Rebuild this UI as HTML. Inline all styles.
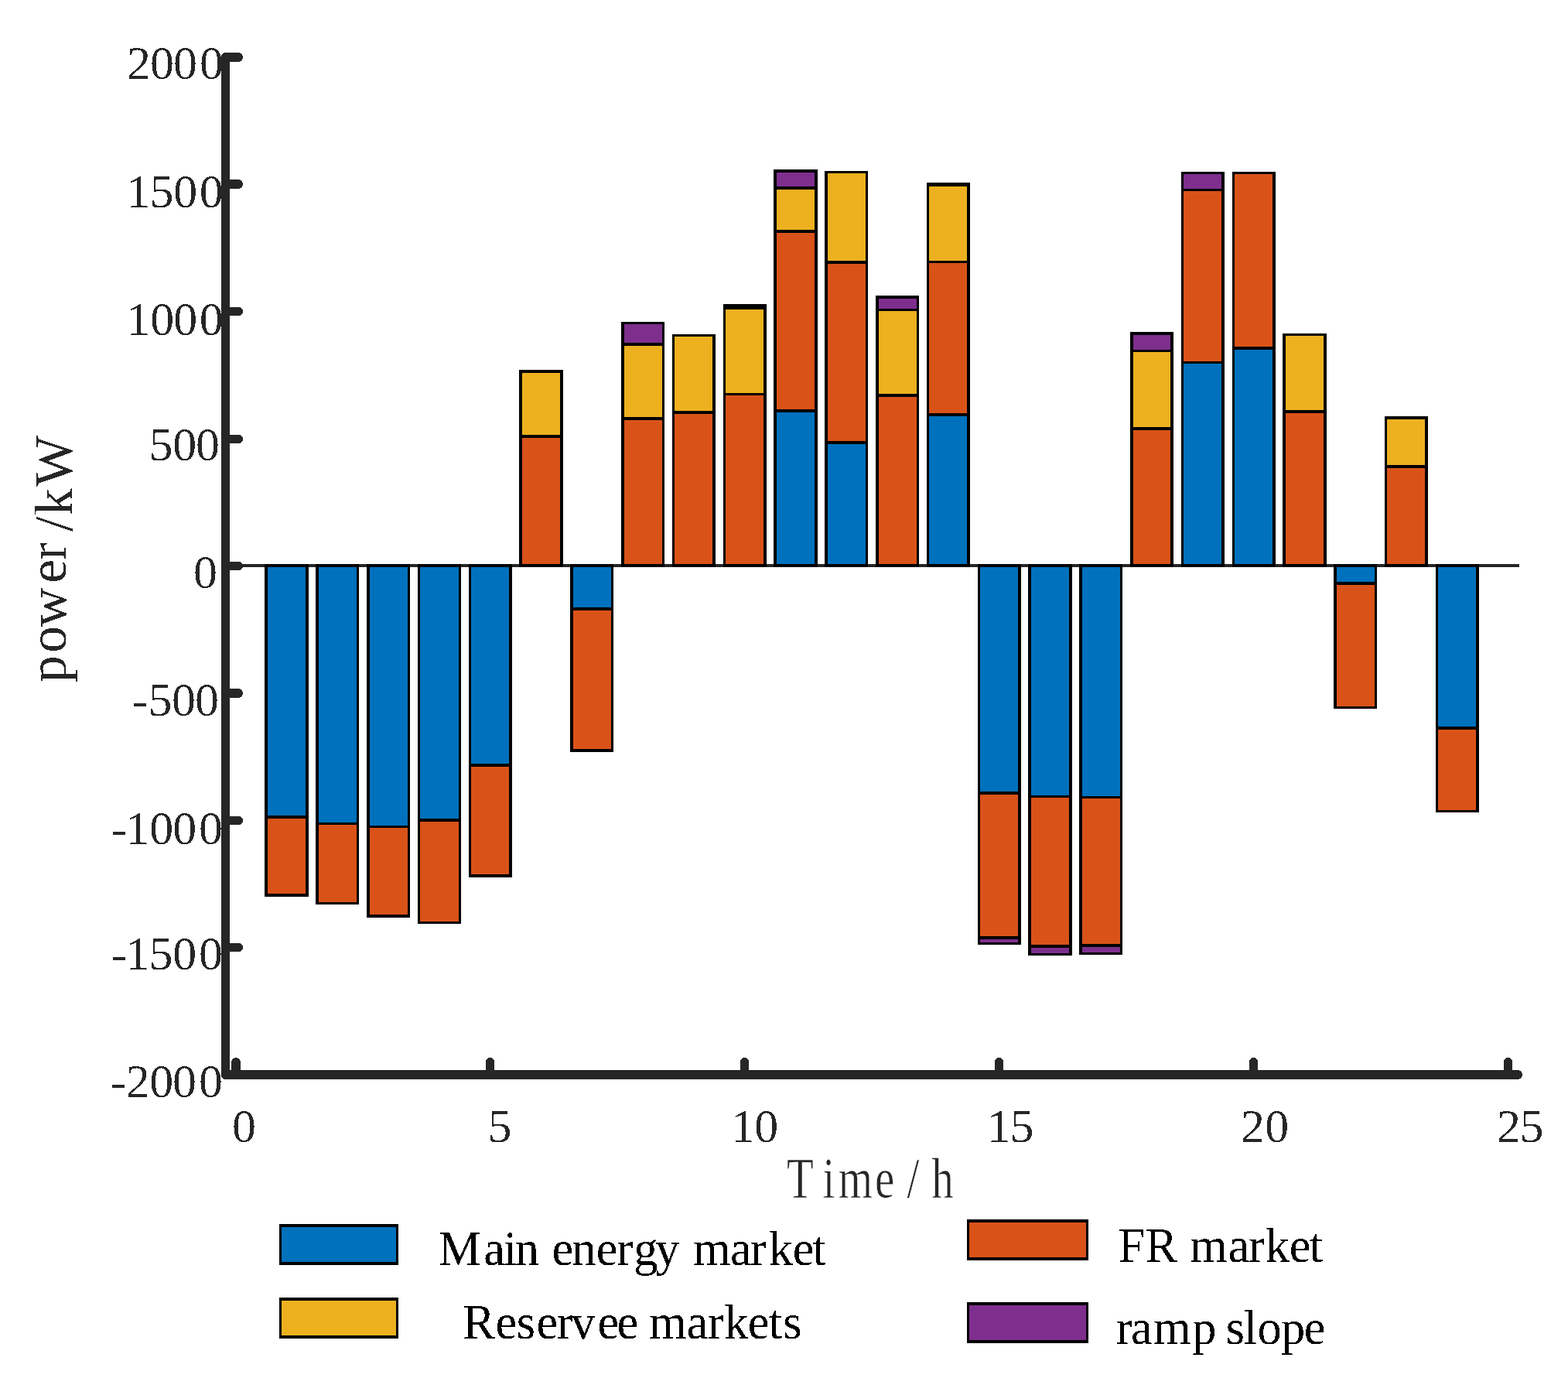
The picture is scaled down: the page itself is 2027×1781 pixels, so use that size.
<!DOCTYPE html>
<html lang="en">
<head>
<meta charset="utf-8">
<title>Power by market over time</title>
<style>
html,body{margin:0;padding:0;background:#fff;}
body{width:2027px;height:1781px;overflow:hidden;}
svg{display:block;}
text{font-family:"Liberation Serif","Times New Roman",serif;}
.tick{font-size:62px;fill:#262626;}
.leg{font-size:62.4px;fill:#000;}
.ylab{font-size:69.5px;fill:#262626;}
.xlab{font-size:73px;fill:#262626;stroke:#fff;stroke-width:0.7px;}
</style>
</head>
<body>
<svg width="2027" height="1781" viewBox="0 0 2027 1781" role="img" aria-label="Stacked bar chart of power by market over 24 hours">
<defs><filter id="hard" x="0" y="0" width="100%" height="100%" filterUnits="objectBoundingBox" color-interpolation-filters="sRGB"><feComponentTransfer><feFuncA type="discrete" tableValues="0 0 0 1 1"/></feComponentTransfer></filter><filter id="hard2" x="0" y="0" width="100%" height="100%" filterUnits="objectBoundingBox" color-interpolation-filters="sRGB"><feComponentTransfer><feFuncA type="discrete" tableValues="0 0 1 1"/></feComponentTransfer></filter></defs>
<rect x="0" y="0" width="2027" height="1781" fill="#ffffff"/>
<g filter="url(#hard)">
<g class="tick">
<text x="163.9 193.9 224.1 257.9" y="102.2">2000</text>
<text x="163.6 193.4 224.2 257.8" y="267.9">1500</text>
<text x="163.6 194.2 224.2 257.8" y="432.9">1000</text>
<text x="192.6 223.2 252.9" y="595.1">500</text>
<text x="249.9" y="760.1">0</text>
<text x="171.1 191.4 222.1 252.1" y="925.1">-500</text>
<text x="143.2 162.6 193.2 223.2 257.1" y="1090.9">-1000</text>
<text x="143.2 162.6 192.6 223.2 257.1" y="1253.0">-1500</text>
<text x="143.1 162.8 193.2 223.1 257.1" y="1418.1">-2000</text>
<text x="299.9" y="1475.8">0</text>
<text x="630.5" y="1475.8">5</text>
<text x="944.9 975.2" y="1475.8">10</text>
<text x="1275.8 1305.6" y="1475.8">15</text>
<text x="1604.0 1635.2" y="1475.8">20</text>
<text x="1935.0 1964.5" y="1475.8">25</text>
</g>
<text class="ylab" transform="translate(85.1,882) rotate(-90)" x="0.0 38.2 72.1 128.3 158.1 181.3 194.9 216.0 253.2" y="0 0 0 0 0 0 7.8 7.8 7.8">power /kW</text>
<text class="xlab" transform="translate(1000,1548) scale(0.78,1)" x="21.7 81.3 107.3 168.1 221.3 261.9" y="0">Time/h</text>
</g>
<g class="leg" filter="url(#hard2)">
<text x="566.8 625.2 650.9 665.8 697.0 713.5 739.4 770.8 797.5 819.2 847.3 878.5 896.0 943.9 969.8 994.0 1024.8 1050.4" y="1635.4">Main energy market</text>
<text x="598.3 640.5 667.8 693.6 719.7 738.2 772.5 797.5 825.2 838.9 887.7 914.8 936.2 966.7 993.7 1012.2" y="1730.2">Reservee markets</text>
<text x="1445.5 1480.5 1522.2 1538.2 1587.8 1614.0 1636.1 1666.7 1692.7" y="1630.8">FR market</text>
<text x="1442.8 1461.9 1491.1 1541.2 1572.4 1584.7 1607.8 1625.6 1656.0 1685.7" y="1736.8">ramp slope</text>
</g>
<g shape-rendering="crispEdges">
<rect x="297" y="729" width="1667" height="4" fill="#262626"/>
<g>
<rect x="342" y="729" width="57" height="430" fill="#000"/>
<rect x="346" y="733" width="49" height="321" fill="#0072BD"/>
<rect x="346" y="1058" width="49" height="97" fill="#D95319"/>
</g>
<g>
<rect x="408" y="729" width="56" height="440" fill="#000"/>
<rect x="412" y="733" width="49" height="330" fill="#0072BD"/>
<rect x="412" y="1066" width="49" height="100" fill="#D95319"/>
</g>
<g>
<rect x="474" y="729" width="56" height="457" fill="#000"/>
<rect x="478" y="733" width="49" height="334" fill="#0072BD"/>
<rect x="478" y="1070" width="49" height="112" fill="#D95319"/>
</g>
<g>
<rect x="540" y="729" width="56" height="465" fill="#000"/>
<rect x="543" y="733" width="50" height="325" fill="#0072BD"/>
<rect x="543" y="1062" width="50" height="129" fill="#D95319"/>
</g>
<g>
<rect x="606" y="729" width="56" height="405" fill="#000"/>
<rect x="609" y="733" width="49" height="254" fill="#0072BD"/>
<rect x="609" y="991" width="49" height="139" fill="#D95319"/>
</g>
<g>
<rect x="671" y="478" width="57" height="255" fill="#000"/>
<rect x="675" y="566" width="49" height="163" fill="#D95319"/>
<rect x="675" y="482" width="49" height="80" fill="#EDB120"/>
</g>
<g>
<rect x="737" y="729" width="56" height="243" fill="#000"/>
<rect x="741" y="733" width="49" height="52" fill="#0072BD"/>
<rect x="741" y="789" width="49" height="179" fill="#D95319"/>
</g>
<g>
<rect x="803" y="416" width="56" height="317" fill="#000"/>
<rect x="807" y="543" width="49" height="186" fill="#D95319"/>
<rect x="807" y="447" width="49" height="92" fill="#EDB120"/>
<rect x="807" y="419" width="49" height="24" fill="#7E2F8E"/>
</g>
<g>
<rect x="869" y="432" width="56" height="301" fill="#000"/>
<rect x="872" y="535" width="49" height="194" fill="#D95319"/>
<rect x="872" y="435" width="49" height="96" fill="#EDB120"/>
</g>
<g>
<rect x="935" y="393" width="56" height="340" fill="#000"/>
<rect x="938" y="511" width="49" height="218" fill="#D95319"/>
<rect x="938" y="400" width="49" height="108" fill="#EDB120"/>
</g>
<g>
<rect x="1000" y="219" width="57" height="514" fill="#000"/>
<rect x="1004" y="533" width="49" height="196" fill="#0072BD"/>
<rect x="1004" y="301" width="49" height="228" fill="#D95319"/>
<rect x="1004" y="245" width="49" height="52" fill="#EDB120"/>
<rect x="1004" y="223" width="49" height="18" fill="#7E2F8E"/>
</g>
<g>
<rect x="1066" y="221" width="56" height="512" fill="#000"/>
<rect x="1070" y="574" width="49" height="155" fill="#0072BD"/>
<rect x="1070" y="341" width="49" height="229" fill="#D95319"/>
<rect x="1070" y="224" width="49" height="113" fill="#EDB120"/>
</g>
<g>
<rect x="1132" y="382" width="56" height="351" fill="#000"/>
<rect x="1136" y="513" width="49" height="216" fill="#D95319"/>
<rect x="1136" y="402" width="49" height="107" fill="#EDB120"/>
<rect x="1136" y="386" width="49" height="13" fill="#7E2F8E"/>
</g>
<g>
<rect x="1198" y="236" width="56" height="497" fill="#000"/>
<rect x="1201" y="538" width="49" height="191" fill="#0072BD"/>
<rect x="1201" y="340" width="49" height="194" fill="#D95319"/>
<rect x="1201" y="241" width="49" height="96" fill="#EDB120"/>
</g>
<g>
<rect x="1264" y="729" width="56" height="492" fill="#000"/>
<rect x="1267" y="733" width="49" height="290" fill="#0072BD"/>
<rect x="1267" y="1027" width="49" height="183" fill="#D95319"/>
<rect x="1267" y="1214" width="49" height="4" fill="#7E2F8E"/>
</g>
<g>
<rect x="1329" y="729" width="57" height="506" fill="#000"/>
<rect x="1333" y="733" width="49" height="295" fill="#0072BD"/>
<rect x="1333" y="1031" width="49" height="190" fill="#D95319"/>
<rect x="1333" y="1225" width="49" height="7" fill="#7E2F8E"/>
</g>
<g>
<rect x="1395" y="729" width="56" height="505" fill="#000"/>
<rect x="1399" y="733" width="49" height="296" fill="#0072BD"/>
<rect x="1399" y="1032" width="49" height="188" fill="#D95319"/>
<rect x="1399" y="1224" width="49" height="7" fill="#7E2F8E"/>
</g>
<g>
<rect x="1461" y="429" width="56" height="304" fill="#000"/>
<rect x="1465" y="556" width="48" height="173" fill="#D95319"/>
<rect x="1465" y="455" width="48" height="97" fill="#EDB120"/>
<rect x="1465" y="433" width="48" height="19" fill="#7E2F8E"/>
</g>
<g>
<rect x="1527" y="222" width="56" height="511" fill="#000"/>
<rect x="1530" y="470" width="49" height="259" fill="#0072BD"/>
<rect x="1530" y="247" width="49" height="220" fill="#D95319"/>
<rect x="1530" y="225" width="49" height="19" fill="#7E2F8E"/>
</g>
<g>
<rect x="1593" y="222" width="56" height="511" fill="#000"/>
<rect x="1596" y="452" width="49" height="277" fill="#0072BD"/>
<rect x="1596" y="225" width="49" height="223" fill="#D95319"/>
</g>
<g>
<rect x="1658" y="431" width="57" height="302" fill="#000"/>
<rect x="1662" y="534" width="49" height="195" fill="#D95319"/>
<rect x="1662" y="434" width="49" height="96" fill="#EDB120"/>
</g>
<g>
<rect x="1724" y="729" width="56" height="187" fill="#000"/>
<rect x="1728" y="733" width="49" height="19" fill="#0072BD"/>
<rect x="1728" y="756" width="49" height="157" fill="#D95319"/>
</g>
<g>
<rect x="1790" y="538" width="56" height="195" fill="#000"/>
<rect x="1793" y="605" width="49" height="124" fill="#D95319"/>
<rect x="1793" y="542" width="49" height="59" fill="#EDB120"/>
</g>
<g>
<rect x="1856" y="729" width="56" height="321" fill="#000"/>
<rect x="1859" y="733" width="49" height="206" fill="#0072BD"/>
<rect x="1859" y="943" width="49" height="104" fill="#D95319"/>
</g>
<g fill="#262626">
<path d="M289 68 L297 68 L297 1383 L1962 1383 A6 6 0 0 1 1962 1395 L289 1395 L286 1392 L286 71 Z"/>
<path d="M296 68 L308.00 68 A6.00 6.00 0 0 1 308.00 80 L296 80 Z"/>
<path d="M296 232 L308.00 232 A6.00 6.00 0 0 1 308.00 244 L296 244 Z"/>
<path d="M296 397 L308.50 397 A5.50 5.50 0 0 1 308.50 408 L296 408 Z"/>
<path d="M296 562 L308.50 562 A5.50 5.50 0 0 1 308.50 573 L296 573 Z"/>
<path d="M296 726 L308.50 726 A5.50 5.50 0 0 1 308.50 737 L296 737 Z"/>
<path d="M296 890 L308.00 890 A6.00 6.00 0 0 1 308.00 902 L296 902 Z"/>
<path d="M296 1055 L308.50 1055 A5.50 5.50 0 0 1 308.50 1066 L296 1066 Z"/>
<path d="M296 1219 L308.50 1219 A5.50 5.50 0 0 1 308.50 1230 L296 1230 Z"/>
<path d="M299 1384 L299 1373.00 A6.00 6.00 0 0 1 311 1373.00 L311 1384 Z"/>
<path d="M628 1384 L628 1372.50 A5.50 5.50 0 0 1 639 1372.50 L639 1384 Z"/>
<path d="M957 1384 L957 1372.50 A5.50 5.50 0 0 1 968 1372.50 L968 1384 Z"/>
<path d="M1286 1384 L1286 1372.50 A5.50 5.50 0 0 1 1297 1372.50 L1297 1384 Z"/>
<path d="M1615 1384 L1615 1372.50 A5.50 5.50 0 0 1 1626 1372.50 L1626 1384 Z"/>
<path d="M1944 1384 L1944 1372.50 A5.50 5.50 0 0 1 1955 1372.50 L1955 1384 Z"/>
</g>
<rect x="361" y="1582" width="154" height="53" fill="#000"/>
<rect x="364" y="1586" width="148" height="45" fill="#0072BD"/>
<rect x="361" y="1677" width="154" height="53" fill="#000"/>
<rect x="364" y="1681" width="148" height="45" fill="#EDB120"/>
<rect x="1250" y="1576" width="157" height="53" fill="#000"/>
<rect x="1253" y="1580" width="151" height="45" fill="#D95319"/>
<rect x="1250" y="1683" width="157" height="53" fill="#000"/>
<rect x="1253" y="1687" width="151" height="45" fill="#7E2F8E"/>
</g>
</svg>
</body>
</html>
